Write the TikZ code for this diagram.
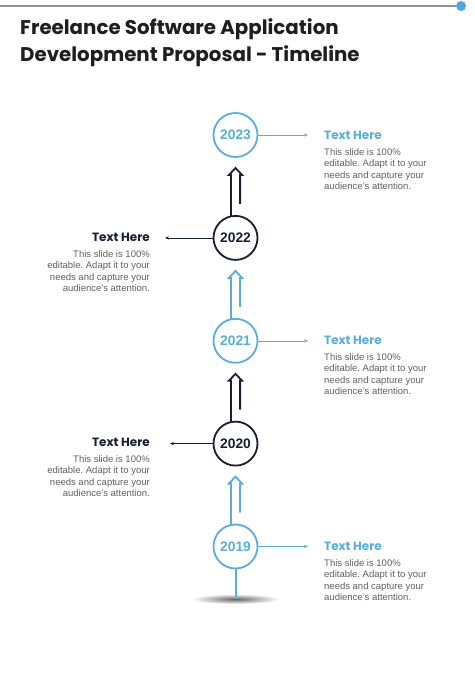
\documentclass[tikz,border=0pt]{standalone}
\usepackage{fontspec}
\setmainfont{Liberation Sans}
\newfontfamily\titlefont{Poppins}
\usetikzlibrary{arrows.meta,calc}
\definecolor{tblue}{RGB}{91,174,212}
\definecolor{tdark}{RGB}{22,32,48}
\definecolor{tgray}{RGB}{95,95,95}
\definecolor{dotblue}{RGB}{77,166,224}
\definecolor{ttitle}{RGB}{30,30,30}
\newcommand\tlarrow[3]{%
  \draw[#3,line width=1.8pt,line join=miter]
    ($(#1.center)+(-4.6,-21.5)$) -- ($(#2.center)+(-4.6,40)$) -- ++(-2,0)
    -- ($(#2.center)+(0,33)$) -- ($(#2.center)+(6.6,40)$) -- ++(-2,0)
    -- ($(#1.center)+(4.6,-34)$);}
\begin{document}
\frenchspacing
\begin{tikzpicture}[x=1pt,y=-1pt,
  yearnode/.style={circle,draw=#1,line width=1.8pt,minimum size=44pt,inner sep=0pt,
    text=#1,font=\fontsize{13.8}{14}\selectfont\bfseries,fill=white},
  headnode/.style={inner sep=0pt,text=#1,font=\titlefont\fontsize{12}{13}\selectfont\bfseries},
  bodynode/.style={inner sep=0pt,text=tgray,font=\fontsize{9.5}{11.3}\selectfont},
  titlenode/.style={inner sep=0pt,anchor=base west,text=ttitle,font=\titlefont\fontsize{19.8}{21}\selectfont\bfseries},
  conn/.style={#1,line width=0.6pt,-{Stealth[length=4pt,width=3.2pt]}}]
\useasboundingbox (0,0) rectangle (474,684);
% top rule
\coordinate (rl) at (0,6);
\node[circle,fill=dotblue,minimum size=10pt,inner sep=0pt] (dot) at (461,6) {};
\draw[gray!85,line width=1.3pt] (rl) -- (dot.west);
% title
\node[titlenode] (t1) at (20,35) {Freelance Software Application};
\node[titlenode] (t2) at (20,61.7) {Development Proposal - Timeline};
% shadow
\shade[inner color=black!60,outer color=white] (235.5,599) ellipse [x radius=44,y radius=5];
\coordinate (stemend) at (235.5,599);
% circles
\node[yearnode=tblue] (c2019) at (235.5,546.5) {2019};
\node[yearnode=tdark] (c2020) at (235.5,443.6) {2020};
\node[yearnode=tblue] (c2021) at (235.5,340.8) {2021};
\node[yearnode=tdark] (c2022) at (235.5,237.9) {2022};
\node[yearnode=tblue] (c2023) at (235.5,135) {2023};
% arrows
\tlarrow{c2019}{c2020}{tblue}
\tlarrow{c2020}{c2021}{tdark}
\tlarrow{c2021}{c2022}{tblue}
\tlarrow{c2022}{c2023}{tdark}
% connectors
\coordinate (e2023) at (308,135);
\coordinate (e2021) at (308,340.8);
\coordinate (e2019) at (308,546.5);
\coordinate (e2022) at (165,237.9);
\coordinate (e2020) at (170,443.6);
\draw[conn=tblue] (c2023.east) -- (e2023);
\draw[conn=tblue] (c2021.east) -- (e2021);
\draw[conn=tblue] (c2019.east) -- (e2019);
\draw[conn=tdark] (c2022.west) -- (e2022);
\draw[conn=tdark] (c2020.west) -- (e2020);
% right texts
\node[headnode=tblue,anchor=west] (h2023) at (324,135) {Text Here};
\node[bodynode,anchor=north west,align=left] (b2023) at (324,148.5) {This slide is 100\%\\editable. Adapt it to your\\needs and capture your\\audience's attention.};
\node[headnode=tblue,anchor=west] (h2021) at (324,340) {Text Here};
\node[bodynode,anchor=north west,align=left] (b2021) at (324,353.5) {This slide is 100\%\\editable. Adapt it to your\\needs and capture your\\audience's attention.};
\node[headnode=tblue,anchor=west] (h2019) at (324,546) {Text Here};
\node[bodynode,anchor=north west,align=left] (b2019) at (324,559.5) {This slide is 100\%\\editable. Adapt it to your\\needs and capture your\\audience's attention.};
% left texts
\node[headnode=tdark,anchor=east] (h2022) at (150,237) {Text Here};
\node[bodynode,anchor=north east,align=right] (b2022) at (150,250.5) {This slide is 100\%\\editable. Adapt it to your\\needs and capture your\\audience's attention.};
\node[headnode=tdark,anchor=east] (h2020) at (150,442) {Text Here};
\node[bodynode,anchor=north east,align=right] (b2020) at (150,455.5) {This slide is 100\%\\editable. Adapt it to your\\needs and capture your\\audience's attention.};
% stem
\draw[draw=tblue,line width=2pt] (c2019.south) -- (stemend);
\end{tikzpicture}
\end{document}
